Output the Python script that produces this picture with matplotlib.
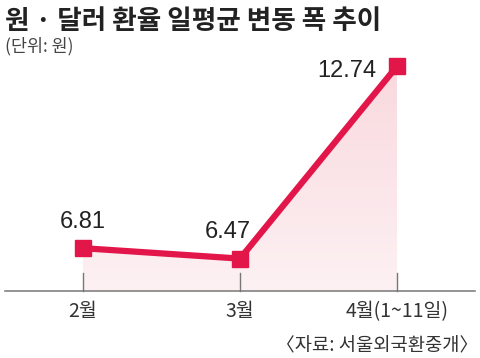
import numpy as np
import matplotlib.pyplot as plt
from matplotlib.colors import LinearSegmentedColormap

plt.rcParams['font.family'] = ['Noto Sans CJK KR', 'DejaVu Sans']

months = ['2월', '3월', '4월(1~11일)']
values = [6.81, 6.47, 12.74]
label_text = ['6.81', '6.47', '12.74']

red = '#e3164a'
x = np.arange(len(values))
base = 5.41

fig = plt.figure(figsize=(4.8, 3.58), dpi=100)
ax = fig.add_axes([0, 0, 1, 1])
ax.set_xlim(-0.529, 2.529)
ax.set_ylim(3.23, 14.9)
ax.axis('off')

# pink gradient fill under the line
poly = ax.fill_between(x, values, base, color='none', lw=0, zorder=1)
cmap = LinearSegmentedColormap.from_list('pink', ['#fdf1f3', '#f9d9de'])
grad = np.linspace(0, 1, 256).reshape(-1, 1)
img = ax.imshow(grad, cmap=cmap, aspect='auto', origin='lower',
                extent=[0, 2, base, max(values)], zorder=1)
img.set_clip_path(poly.get_paths()[0], transform=ax.transData)

# axis line and ticks
ax.plot([-0.5, 2.5], [base, base], color='#777777', lw=1.1, zorder=2)
for xi in x:
    ax.plot([xi, xi], [base, base + 0.6], color='#777777', lw=1.0, zorder=2)

ax.plot(x, values, color=red, lw=4.5, marker='s', markersize=12,
        solid_capstyle='butt', zorder=3)

# value labels
num_font = ['Liberation Sans', 'DejaVu Sans']
ax.text(0, values[0] + 0.5, label_text[0], ha='center', va='bottom',
        fontsize=17, color='#222222', family=num_font)
ax.text(0.92, values[1] + 0.5, label_text[1], ha='center', va='bottom',
        fontsize=17, color='#222222', family=num_font)
ax.text(1.87, values[2] - 0.15, label_text[2], ha='right', va='center',
        fontsize=17, color='#222222', family=num_font)

for xi, m in zip(x, months):
    ax.text(xi, 4.73, m, ha='center', va='center', fontsize=14,
            color='#333333')

fig.text(0.01, 0.94, '원 · 달러 환율 일평균 변동 폭 추이', ha='left',
         va='center', fontsize=19.2, fontweight='bold', color='#222222')
fig.text(0.01, 0.872, '(단위: 원)', ha='left', va='center',
         fontsize=12.5, color='#444444')
fig.text(0.997, 0.035, '〈자료: 서울외국환중개〉', ha='right', va='center',
         fontsize=13.5, color='#333333')

fig.savefig('out.png', dpi=100)
